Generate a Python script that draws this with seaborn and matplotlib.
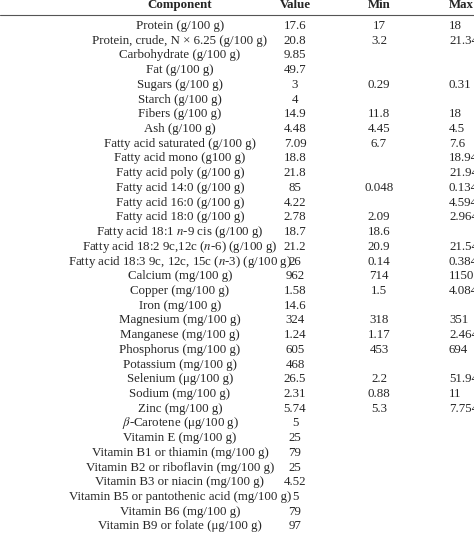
import matplotlib
matplotlib.use("Agg")
import matplotlib.pyplot as plt
import seaborn as sns

sns.set_style("white")
plt.rcParams["font.family"] = ["Liberation Serif", "DejaVu Serif"]
plt.rcParams["mathtext.fontset"] = "stix"

components = [
    "Protein (g/100 g)", "Protein, crude, N \u00d7 6.25 (g/100 g)", "Carbohydrate (g/100 g)",
    "Fat (g/100 g)", "Sugars (g/100 g)", "Starch (g/100 g)", "Fibers (g/100 g)", "Ash (g/100 g)",
    "Fatty acid saturated (g/100 g)", "Fatty acid mono (g100 g)", "Fatty acid poly (g/100 g)",
    "Fatty acid 14:0 (g/100 g)", "Fatty acid 16:0 (g/100 g)", "Fatty acid 18:0 (g/100 g)",
    "Fatty acid 18:1 $n$-9 cis (g/100 g)", "Fatty acid 18:2 9c,12c ($n$-6) (g/100 g)",
    "Fatty acid 18:3 9c, 12c, 15c ($n$-3) (g/100 g)", "Calcium (mg/100 g)", "Copper (mg/100 g)",
    "Iron (mg/100 g)", "Magnesium (mg/100 g)", "Manganese (mg/100 g)", "Phosphorus (mg/100 g)",
    "Potassium (mg/100 g)", "Selenium (\u03bcg/100 g)", "Sodium (mg/100 g)", "Zinc (mg/100 g)",
    "$\\beta$-Carotene (\u03bcg/100 g)", "Vitamin E (mg/100 g)", "Vitamin B1 or thiamin (mg/100 g)",
    "Vitamin B2 or riboflavin (mg/100 g)", "Vitamin B3 or niacin (mg/100 g)",
    "Vitamin B5 or pantothenic acid (mg/100 g)", "Vitamin B6 (mg/100 g)",
    "Vitamin B9 or folate (\u03bcg/100 g)",
]
values = ["17.6", "20.8", "9.85", "49.7", "3", "4", "14.9", "4.48", "7.09", "18.8", "21.8",
          "85", "4.22", "2.78", "18.7", "21.2", "26", "962", "1.58", "14.6", "324", "1.24", "605",
          "468", "26.5", "2.31", "5.74", "5", "25", "79", "25", "4.52", "5", "79", "97"]
mins = ["17", "3.2", "", "", "0.29", "", "11.8", "4.45", "6.7", "", "",
        "0.048", "", "2.09", "18.6", "20.9", "0.14", "714", "1.5", "", "318", "1.17", "453",
        "", "2.2", "0.88", "5.3", "", "", "", "", "", "", "", ""]
maxs = ["18", "21.34", "", "", "0.31", "", "18", "4.5", "7.6", "18.94", "21.94",
        "0.134", "4.594", "2.964", "", "21.54", "0.384", "1150", "4.084", "", "351", "2.464", "694",
        "", "51.94", "11", "7.754", "", "", "", "", "", "", "", ""]

fig = plt.figure(figsize=(4.74, 5.34), dpi=100)
ax = fig.add_axes([0, 0, 1, 1])
ax.set_xlim(0, 474)
ax.set_ylim(534, 0)
ax.axis("off")

fs = 9.3
col_x = [180, 295, 379, 463]
ax.text(col_x[0], 5, "Component", ha="center", va="center", fontsize=fs, fontweight="bold")
ax.text(col_x[1], 5, "Value", ha="center", va="center", fontsize=fs, fontweight="bold")
ax.text(col_x[2], 5, "Min", ha="center", va="center", fontsize=fs, fontweight="bold")
ax.text(col_x[3] - 14, 5, "Max", ha="left", va="center", fontsize=fs, fontweight="bold")
ax.axhline(15, color="#555555", lw=0.8)

y0, dy = 26, 14.72
for i, (c, v, mn, mx) in enumerate(zip(components, values, mins, maxs)):
    y = y0 + i * dy
    ax.text(col_x[0], y, c, ha="center", va="center", fontsize=fs)
    ax.text(col_x[1], y, v, ha="center", va="center", fontsize=fs)
    ax.text(col_x[2], y, mn, ha="center", va="center", fontsize=fs)
    ax.text(col_x[3] - 14, y, mx, ha="left", va="center", fontsize=fs)

fig.savefig("out.png", dpi=100)
